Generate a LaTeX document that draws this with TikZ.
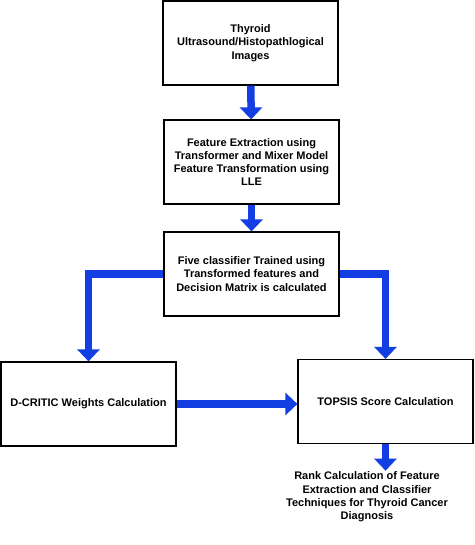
\documentclass[tikz,border=0pt]{standalone}
\usepackage{fontspec}
\setmainfont{Liberation Sans}
\usepackage{xcolor}
\usetikzlibrary{
    arrows.meta,
    calc,
    positioning
}
\definecolor{flowblue}{RGB}{18,62,228}
\tikzset{
    stepbox/.style={draw, line width=1.2pt, minimum width=175pt, minimum height=84pt,
        align=center, inner sep=2pt, font=\fontsize{11}{13.3}\selectfont\bfseries},
    flow/.style={draw=flowblue, line width=7.5pt, line join=miter,
        -{Triangle[width=22pt,length=12pt]}}
}
\begin{document}
\begin{tikzpicture}[x=1pt, y=-1pt]
                        \useasboundingbox (0, 0) rectangle (474, 545);
                        \node[stepbox] (img) at (250.5, 43) {Thyroid\\Ultrasound/Histopathlogical\\Images};
                        \node[stepbox] (fe) at (251.5, 162) {Feature Extraction using\\Transformer and Mixer Model\\Feature Transformation using\\LLE};
                        \node[stepbox] (clf) at (251.5, 274) {Five classifier Trained using\\Transformed features and\\Decision Matrix is calculated};
                        \node[stepbox] (critic) at (88.5, 404) {D-CRITIC Weights Calculation};
                        \node[stepbox] (topsis) at (385.5, 401.5) {TOPSIS Score Calculation};
                        \node[align=center, inner sep=1pt, font=\fontsize{11}{13.3}\selectfont\bfseries] (rank) at (367, 497) {Rank Calculation of Feature\\Extraction and Classifier\\Techniques for Thyroid Cancer\\Diagnosis};

                        \draw[flow] (img) -- (fe);
                        \draw[flow] (fe) -- (clf);
                        \draw[flow] (clf.west) -| (critic.north);
                        \draw[flow] (clf.east) -| (topsis.north);
                        \draw[flow] (critic.east) -- (critic.east -| topsis.west);
                        \draw[flow] (topsis.south) -- (topsis.south |- rank.north);
                    \end{tikzpicture}
\end{document}
